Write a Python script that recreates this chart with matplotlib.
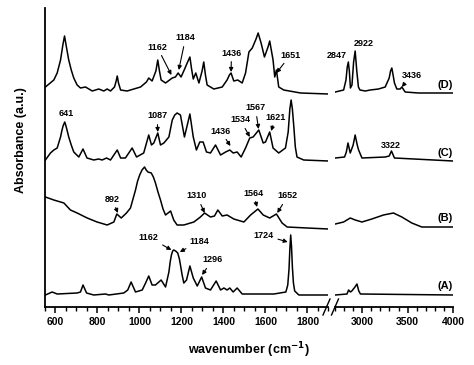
import numpy as np
import matplotlib
matplotlib.use('Agg')
import matplotlib.pyplot as plt
from matplotlib.ticker import MultipleLocator

plt.rcParams['font.family'] = ['Liberation Sans', 'DejaVu Sans']
plt.rcParams['font.weight'] = 'bold'

# %%
# spectra (stacked with offsets), 550-1900 and 2700-4000 cm-1
D_mid_wn = [552, 592, 608, 624, 635, 643, 652, 663, 675, 687, 703, 719, 743, 775, 806, 830, 846,
            862, 881, 889, 894, 900, 910, 941, 973, 1005, 1033, 1044, 1060, 1078, 1087, 1095, 1103,
            1124, 1156, 1171, 1184, 1198, 1215, 1227, 1240, 1248, 1256, 1268, 1283, 1298, 1306,
            1314, 1322, 1354, 1394, 1417, 1428, 1436, 1449, 1468, 1489, 1505, 1521, 1537, 1555,
            1565, 1579, 1595, 1612, 1620, 1636, 1644, 1652, 1663, 1687, 1767, 1900]
D_mid_ab = [220, 227, 234, 247, 262, 271, 260, 247, 237, 229, 222, 219, 220, 216, 218, 216, 218,
            216, 220, 226, 231, 224, 217, 216, 218, 220, 225, 229, 226, 236, 247, 236, 227,
            224, 229, 230, 234, 230, 238, 244, 250, 238, 228, 234, 224, 236, 245,
            232, 222, 218, 220, 227, 232, 234, 226, 227, 224, 234, 255, 259, 268,
            274, 264, 250, 260, 266, 247, 230, 237, 220, 217, 214, 213]
D_hi_wn = [2703, 2795, 2821, 2835, 2847, 2858, 2870, 2887, 2905, 2922, 2940, 2958, 2975, 3033,
           3088, 3179, 3253, 3297, 3312, 3326, 3340, 3355, 3381, 3418, 3436, 3473, 3619, 4000]
D_hi_ab = [215, 217, 227, 240, 245, 236, 219, 222, 245, 256, 236, 220, 217, 216,
           217, 218, 220, 229, 236, 239, 232, 224, 218, 218, 220, 215, 214, 214]

C_mid_wn = [552, 576, 592, 608, 624, 630, 636, 644, 650, 656, 663, 675, 687, 711, 731, 750, 782,
            806, 822, 843, 862, 894, 910, 933, 965, 986, 1020, 1044, 1057, 1068, 1087, 1100, 1116,
            1140, 1156, 1168, 1179, 1195, 1214, 1240, 1256, 1271, 1287, 1303, 1319, 1338, 1362,
            1386, 1410, 1430, 1446, 1465, 1484, 1505, 1525, 1541, 1568, 1589, 1600, 1620, 1636,
            1663, 1695, 1708, 1716, 1722, 1728, 1735, 1742, 1750, 1782, 1900]
C_mid_ab = [147, 154, 157, 159, 170, 176, 181, 185, 181, 176, 170, 162, 155, 150, 158, 149, 147,
            148, 147, 149, 147, 157, 149, 149, 159, 150, 154, 172, 162, 164, 174, 162, 164,
            170, 187, 192, 194, 192, 170, 193, 170, 157, 165, 165, 155, 154, 162,
            152, 155, 157, 154, 155, 150, 159, 169, 170, 177, 164, 165, 175, 159,
            154, 159, 175, 198, 207, 198, 180, 160, 150, 147, 146]
C_hi_wn = [2703, 2805, 2825, 2843, 2868, 2900, 2922, 2945, 2960, 2997, 3253, 3297, 3322, 3355, 4000]
C_hi_ab = [149, 150, 155, 164, 154, 162, 172, 162, 157, 149, 150, 151, 156, 149, 146]

B_mid_wn = [552, 592, 640, 671, 703, 751, 798, 846, 878, 892, 913, 938, 957, 981, 991, 1001, 1012,
            1024, 1032, 1040, 1056, 1066, 1076, 1088, 1100, 1112, 1124, 1148, 1163, 1179, 1211,
            1259, 1290, 1310, 1338, 1357, 1373, 1394, 1417, 1449, 1497, 1529, 1564, 1589, 1620,
            1652, 1679, 1703, 1798, 1900]
B_mid_ab = [110, 107, 104, 97, 94, 89, 85, 82, 85, 93, 89, 94, 99, 117, 126, 132, 137,
            140, 137, 135, 134, 130, 124, 115, 107, 98, 92, 96, 87, 82, 82,
            85, 90, 94, 90, 91, 97, 91, 92, 88, 85, 92, 98, 92, 89,
            93, 84, 80, 79, 78]
B_hi_wn = [2703, 2795, 2868, 2923, 2997, 3106, 3234, 3344, 3436, 3546, 3656, 4000]
B_hi_ab = [83, 85, 89, 87, 85, 88, 92, 94, 90, 84, 80, 80]

A_mid_wn = [552, 584, 608, 703, 719, 731, 748, 782, 838, 854, 925, 944, 960, 981, 1013, 1029,
            1044, 1060, 1076, 1103, 1124, 1140, 1146, 1152, 1158, 1163, 1172, 1182, 1190, 1195,
            1203, 1211, 1224, 1240, 1256, 1275, 1296, 1314, 1338, 1365, 1386, 1402, 1417, 1430,
            1446, 1465, 1489, 1640, 1697, 1706, 1712, 1716, 1720, 1724, 1728, 1733, 1739, 1759, 1900]
A_mid_ab = [12, 15, 13, 14, 15, 22, 14, 12, 13, 12, 14, 17, 25, 15, 17, 24,
            31, 22, 22, 27, 20, 35, 45, 52, 56, 57, 56, 54, 48, 42,
            32, 24, 27, 41, 29, 21, 30, 19, 17, 26, 17, 19, 17, 19,
            15, 19, 13, 13, 15, 22, 38, 58, 72, 60, 40, 24, 16, 12, 12]
A_hi_wn = [2703, 2832, 2850, 2870, 2885, 2920, 2942, 2962, 2980, 4000]
A_hi_ab = [12, 13, 17, 15, 16, 20, 23, 16, 13, 12]

spectra = [(D_mid_wn, D_mid_ab, D_hi_wn, D_hi_ab),
           (C_mid_wn, C_mid_ab, C_hi_wn, C_hi_ab),
           (B_mid_wn, B_mid_ab, B_hi_wn, B_hi_ab),
           (A_mid_wn, A_mid_ab, A_hi_wn, A_hi_ab)]

# %%
fig = plt.figure(figsize=(4.74, 3.65), dpi=100)
ax1 = fig.add_axes([45 / 474, 58 / 365, 283.5 / 474, 299 / 365])
ax2 = fig.add_axes([335 / 474, 58 / 365, 118 / 474, 299 / 365])

for mid_wn, mid_ab, hi_wn, hi_ab in spectra:
    ax1.plot(mid_wn, mid_ab, color='black', lw=1.1, solid_joinstyle='round')
    ax2.plot(hi_wn, hi_ab, color='black', lw=1.1, solid_joinstyle='round')

ax1.set_xlim(550, 1900)
ax2.set_xlim(2700, 4000)
for ax in (ax1, ax2):
    ax.set_ylim(0, 299)
    ax.set_yticks([])
    ax.spines['top'].set_visible(False)
    ax.spines['right'].set_visible(False)
    ax.spines['bottom'].set_linewidth(1.3)
    ax.spines['left'].set_linewidth(1.3)
    ax.tick_params(axis='x', which='major', length=4.5, width=1.1, labelsize=7.5, pad=2.5, direction='out')
    ax.tick_params(axis='x', which='minor', length=3, width=1.0, direction='out')
ax2.spines['left'].set_visible(False)

ax1.set_xticks([600, 800, 1000, 1200, 1400, 1600, 1800])
ax1.xaxis.set_minor_locator(MultipleLocator(50))
ax2.set_xticks([3000, 3500, 4000])
ax2.xaxis.set_minor_locator(MultipleLocator(100))
for ax in (ax1, ax2):
    for lab in ax.get_xticklabels():
        lab.set_fontweight('bold')

# break marks on the x axis
for x0 in (323, 331.5):
    fig.add_artist(plt.Line2D([x0 / 474, (x0 + 7) / 474], [50 / 365, 66 / 365],
                              color='black', lw=1.0, transform=fig.transFigure))

# %%
# peak labels
lab_kw = dict(fontsize=6.5, fontweight='bold', ha='center', va='center')
arr = dict(arrowstyle='-|>', color='black', lw=0.8, mutation_scale=6, shrinkA=1, shrinkB=0)

ax1_notes = [
    ('1162', (1084, 260), (1152, 232)),
    ('1184', (1219, 269), (1187, 237)),
    ('1436', (1438, 254), (1436, 235)),
    ('1651', (1719, 252), (1652, 234)),
    ('1087', (1084, 191), (1087, 175)),
    ('1436', (1386, 176), (1433, 161)),
    ('1534', (1481, 187), (1525, 170)),
    ('1567', (1552, 199), (1567, 178)),
    ('1621', (1648, 190), (1627, 176)),
    ('892', (870, 108), (897, 94)),
    ('1310', (1274, 111), (1310, 94)),
    ('1564', (1541, 114), (1560, 100)),
    ('1652', (1706, 111), (1656, 94)),
    ('1162', (1044, 70), (1152, 57)),
    ('1184', (1287, 66), (1192, 55)),
    ('1296', (1346, 47), (1298, 32)),
    ('1724', (1592, 72), (1706, 65)),
]
for txt, pos, tip in ax1_notes:
    ax1.annotate(txt, xy=tip, xytext=pos, arrowprops=arr, **lab_kw)
ax1.text(652, 193, '641', **lab_kw)

ax2.text(2722, 252, '2847', **lab_kw)
ax2.text(3015, 264, '2922', **lab_kw)
ax2.annotate('3436', xy=(3436, 220), xytext=(3546, 232), arrowprops=arr, **lab_kw)
ax2.text(3319, 162, '3322', **lab_kw)

# curve names
for name, y in [('(D)', 222), ('(C)', 154), ('(B)', 89), ('(A)', 21)]:
    ax2.text(3912, y, name, fontsize=8, fontweight='bold', ha='center', va='center')

fig.text(21 / 474, 1 - 140 / 365, 'Absorbance (a.u.)', rotation=90, fontsize=9,
         fontweight='bold', ha='center', va='center')
fig.text(249 / 474, 1 - 350 / 365, 'wavenumber (cm$^{\\mathbf{-1}}$)', fontsize=9,
         fontweight='bold', ha='center', va='center')

fig.savefig('out.png', dpi=100)
